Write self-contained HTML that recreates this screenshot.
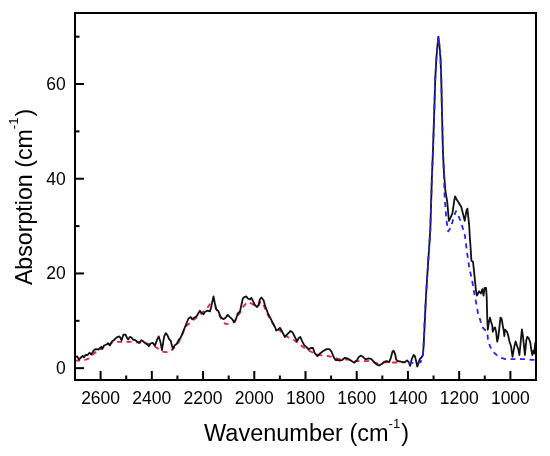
<!DOCTYPE html>
<html><head><meta charset="utf-8"><title>Absorption spectrum</title>
<style>
html,body{margin:0;padding:0;background:#fff;}
body{width:550px;height:456px;overflow:hidden;}
svg{display:block;}
text{font-family:"Liberation Sans",Arial,sans-serif;fill:#000;}
</style></head><body>
<svg width="550" height="456" viewBox="0 0 550 456">
<rect x="0" y="0" width="550" height="456" fill="#fff"/>
<g fill="none" stroke-linejoin="round" stroke-linecap="round">
<polyline points="75,360.7 80.4,360.5 84.9,360 88.5,358.6 92.2,355 97.6,350.5 103.1,347.3 108.5,344.5 112.2,342.7 117.6,341.8 122.2,341.8 129.8,341.8 138.5,342.4 146.2,343.5 150.5,344.5 156,347.3 162.5,351.6 165.8,352.2 170.2,351.6 173.5,348.4 178.9,341.8 182.1,334.9 185.7,326.3 189.3,323.5 193.5,319.9 199.2,315.6 203.5,311.4 208.5,306.4 212,300.7 213.5,298.5 215.6,307.8 219.2,314.9 223.5,322.8 226.3,324.2 230.6,322.8 234.9,322 237.1,316.4 240,312.8 243.5,306.4 247.1,302.1 251.4,303.5 255.7,306.4 258.5,305.7 260.6,301.4 263.5,305 267.1,313.5 271.3,321.3 275.6,327.8 279.9,330.6 284.2,334.9 287.7,337 292.7,339.2 297.1,342.5 301.5,345.8 305.8,349.1 310.2,351.3 315.7,354 320.1,355.1 325.6,355.6 331.1,356.7 336.6,358.4 342,359.5 348.7,359.5 353.1,361.1 357.5,361.1 364,361.1 368.4,361.1 372.7,362.2 377.1,363.3 381.5,362.7 385.8,362.2 391.3,362.5 396.7,362.5 405,362.3" stroke="#e81e3c" stroke-width="1.8" stroke-dasharray="5 4.5" stroke-linecap="butt"/>
<polyline points="75.8,356.8 77.2,356.4 79,359.5 80.8,357.7 82.6,355.9 84,357.3 85.4,355 87.6,355 89.5,352.7 91.3,354.5 94,350 95.8,349.1 98.5,349.5 101.3,346.8 102.2,349.1 104,345.5 106.7,344.5 108.1,343.2 109.9,345.5 111.7,341.8 114,340 116.7,337.3 119.5,336.4 121.6,340.2 123.3,334.7 125.5,334.7 127.1,338 128.2,339.6 129.8,336.9 131.5,337.5 133.1,339.6 135.3,340.2 137.5,341.8 139.1,342.9 141.3,340.2 142.9,341.3 145.1,342.9 147.3,344.5 148.9,346.2 150.5,343.5 152.7,342.9 154.9,345.6 157.1,339.6 158.7,336.4 160.4,341.8 162,350 163.1,342.9 164.2,336.4 165.8,333.1 167.5,335.3 169.1,339.1 170.7,340.7 171.8,345.1 172.9,348.9 174.5,345.6 176.7,344 178.9,339.6 180.7,337.7 183.6,330.6 186.4,323.5 188.5,318.5 190.7,317.1 192.1,319.2 194.2,317.8 196.4,316.4 197.8,314.2 199.9,310.7 201.4,312.8 203.5,314.2 204.9,312.1 207.1,310.7 209.9,311.4 211.3,306.4 213.5,296.4 214.9,303.5 216.3,309.2 218.5,311.4 220.6,317.1 223.5,319.2 225.6,317.8 227.7,314.9 229.9,317.1 232.1,319.2 234.3,322.1 236.4,317.8 237.8,313.5 240,311.4 241.4,305 242.8,298.5 244.3,297.1 246.4,296.4 247.8,298.5 250,299.3 251.4,297.8 252.8,300.7 254.9,305 257.1,307.1 258.5,305 259.9,299.3 261.4,297.5 263.5,300 264.9,305 266.3,309.2 267.8,312.8 269.9,317.1 272.8,322.8 274.9,327 276.3,330.6 278.5,329.2 279.9,327.8 282,331.3 284.9,337 287.2,334.3 290.5,331 292.7,332.6 294.3,335.9 297.1,341.4 298.7,338.1 300.4,337 302,340.8 304.2,345.2 306.9,347.4 308.6,349.6 310.8,348 313,348 314.6,352.9 317.4,356.2 320.1,353.5 322.8,351.3 326.7,349.1 329.4,349.1 331.6,351.8 333.3,356.2 335.5,360 337.6,360 339.8,360.6 342.2,360 344.9,357.8 347.6,358.4 350.9,360.5 354.2,362.7 356.9,360.5 358.5,357.3 360.7,355.6 363.5,357.3 365.6,359.5 368.4,358.4 371.1,358.9 373.8,361.6 376.5,364.4 379.3,365.5 382,363.8 384.7,361.6 386.9,361.1 389.1,362.2 390.7,358.4 392.4,351.8 393.5,350.7 395.1,354 396.2,359.5 397.4,361 401,361.7 404.7,362.3 407.1,360.4 408.9,362.3 410.1,365.9 411.9,358.6 413.7,355 414.9,356.2 416.1,361 417.3,366.5 418.5,362.9 419.7,359.2 421,358 422.2,356.2 423,355 423.7,344.1 424.4,330 426,296 428.1,263 430.3,230 431.8,180 433,150 434.2,113 435.2,80 436.4,58 437.5,45 438.4,36.6 439.4,45 440.5,58 441.3,80 442,113 442.9,150 443.8,170 445.4,191 447.2,201.6 448.9,220.9 450.7,217.4 452.5,213 454.2,200.7 455.1,196.3 456.8,199.8 458.6,202.5 461.2,206.8 463,213.9 464.7,220.9 466.5,210.4 467.4,208.6 469.1,224.4 470,240.2 470.3,243.1 471.4,260.7 473,261.7 474.3,273.8 475.8,289.1 476.9,295.7 479.1,291.3 480.8,293.5 482.4,289.1 483.5,295.7 484.6,288 486.1,288 486.7,297 487.3,319.8 487.8,329.6 488.9,322 490,317.6 491.1,322 492.2,325.2 492.8,331.8 493.9,328.5 495,327.4 496.1,331.8 497.2,341.7 498.3,337.3 499.4,327.4 500.5,317.6 501.6,318.7 502.7,325.2 503.8,330.7 504.3,336.2 504.9,329.6 506,330.7 507,331.8 508.1,335.1 509.5,341.7 511,346 512.5,356.8 514.1,347.6 515.6,341.4 517.1,346 518.5,350 519.4,355 520.9,339.7 521.9,329.4 522.9,335.8 524.9,355 526.4,339.7 527.3,336.8 528.8,338.3 530.3,342.7 531.3,349.6 532.3,355 533.3,350.6 534.2,353.5 535.2,343" stroke="#111" stroke-width="1.8"/>
<polyline points="408.3,362.9 411.9,362.9 416.7,362.9 420.4,362.3 422.8,356.2 424,338.1 424.6,320 426,296 428.1,263 430.3,230 431.8,180 433,150 434.2,113 435.2,80 436.4,58 437.5,45 438.4,37 439.4,45 440.5,58 441.3,80 442,113 442.9,150 443.8,170 444.6,196.3 446.3,219.1 448.1,231.4 450.7,227.9 454.2,215.6 456,211.2 457.7,213.9 461.2,222.6 464.8,235 467,251.9 469.2,267.2 472.5,282.6 474.7,295.7 476.9,306.6 478.2,314.7 480.2,319.8 481.5,325.4 483.5,328.5 486.5,331.2 487.3,332.8 488.1,341 490.6,347.6 494.7,353.4 499.6,357.5 505.4,359.1 516.4,359.1 524,359.1 531.7,359.8 536,359.8" stroke="#2626f0" stroke-width="1.8" stroke-dasharray="5 4.5" stroke-linecap="butt"/>
</g>
<g stroke="#000" stroke-width="2" fill="none">
<rect x="75" y="13" width="461" height="367"/>
<line x1="510.39" y1="380" x2="510.39" y2="371"/><line x1="484.78" y1="380" x2="484.78" y2="375.5"/><line x1="459.17" y1="380" x2="459.17" y2="371"/><line x1="433.56" y1="380" x2="433.56" y2="375.5"/><line x1="407.94" y1="380" x2="407.94" y2="371"/><line x1="382.33" y1="380" x2="382.33" y2="375.5"/><line x1="356.72" y1="380" x2="356.72" y2="371"/><line x1="331.11" y1="380" x2="331.11" y2="375.5"/><line x1="305.50" y1="380" x2="305.50" y2="371"/><line x1="279.89" y1="380" x2="279.89" y2="375.5"/><line x1="254.28" y1="380" x2="254.28" y2="371"/><line x1="228.67" y1="380" x2="228.67" y2="375.5"/><line x1="203.06" y1="380" x2="203.06" y2="371"/><line x1="177.44" y1="380" x2="177.44" y2="375.5"/><line x1="151.83" y1="380" x2="151.83" y2="371"/><line x1="126.22" y1="380" x2="126.22" y2="375.5"/><line x1="100.61" y1="380" x2="100.61" y2="371"/><line x1="75" y1="368.16" x2="84" y2="368.16"/><line x1="75" y1="320.81" x2="79.5" y2="320.81"/><line x1="75" y1="273.45" x2="84" y2="273.45"/><line x1="75" y1="226.10" x2="79.5" y2="226.10"/><line x1="75" y1="178.74" x2="84" y2="178.74"/><line x1="75" y1="131.39" x2="79.5" y2="131.39"/><line x1="75" y1="84.03" x2="84" y2="84.03"/><line x1="75" y1="36.68" x2="79.5" y2="36.68"/>
</g>
<g font-size="17.5">
<text x="510.39" y="403.5" text-anchor="middle">1000</text><text x="459.17" y="403.5" text-anchor="middle">1200</text><text x="407.94" y="403.5" text-anchor="middle">1400</text><text x="356.72" y="403.5" text-anchor="middle">1600</text><text x="305.50" y="403.5" text-anchor="middle">1800</text><text x="254.28" y="403.5" text-anchor="middle">2000</text><text x="203.06" y="403.5" text-anchor="middle">2200</text><text x="151.83" y="403.5" text-anchor="middle">2400</text><text x="100.61" y="403.5" text-anchor="middle">2600</text><text x="65.8" y="374.16" text-anchor="end">0</text><text x="65.8" y="279.45" text-anchor="end">20</text><text x="65.8" y="184.74" text-anchor="end">40</text><text x="65.8" y="90.03" text-anchor="end">60</text>
</g>
<text x="204" y="441" font-size="23.5">Wavenumber (cm<tspan font-size="13" dy="-13.5">-1</tspan><tspan dx="1.2" dy="13.5">)</tspan></text>
<text transform="translate(31.5,285.1) rotate(-90)" font-size="23.2">Absorption (cm<tspan font-size="13" dy="-13.5">-1</tspan><tspan dx="1.2" dy="13.5">)</tspan></text>
</svg>
</body></html>
